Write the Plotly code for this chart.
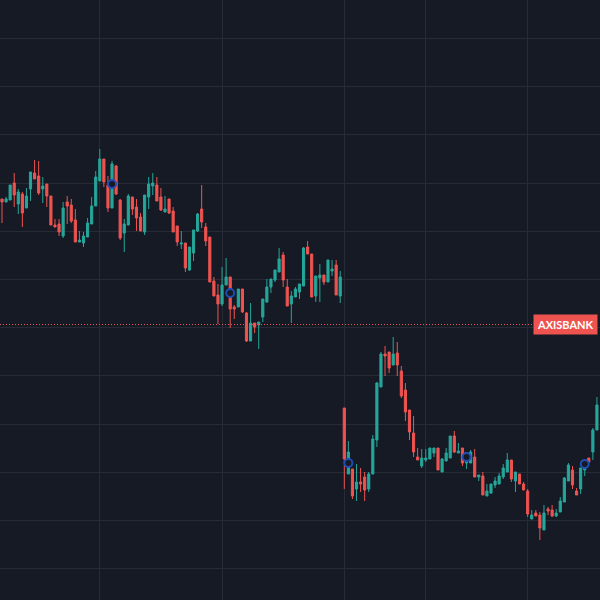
import plotly.graph_objects as go

# candle values (arbitrary price units)
opens = [401, 398, 400, 417, 396, 406, 392, 411, 427, 424, 411, 416, 404, 375, 376, 364, 398, 395, 380, 358,
         357, 363, 376, 394, 419, 441, 415, 392,
         434, 400, 367, 375, 403, 393, 383, 368, 403, 414, 415, 403, 388, 401, 389, 374, 356, 357, 330, 347,
         369, 391, 373, 363, 319, 305, 296,
         315, 323, 293, 293, 311, 287, 259, 277, 275, 283, 298, 313, 320, 328, 345, 313, 296, 303, 308, 314,
         353, 346, 304, 322, 325, 318, 329, 335, 304,
         192, 126, 131, 111, 118, 123, 111, 126, 160, 213, 246, 248, 235, 247, 229, 210, 190, 167, 143, 134,
         140, 141, 147, 152, 128, 139, 142, 164, 147,
         152, 137, 137, 143, 123, 124, 104, 107, 115, 116, 123, 128, 140, 119, 126, 116, 109, 81, 87, 85,
         70, 91, 90, 84, 88, 98, 119, 130, 109, 111, 130, 142, 148, 170]
highs = [401, 403, 415, 427, 411, 408, 412, 428, 440, 439, 423, 416, 404, 381, 381, 398, 404, 401, 391, 369,
         368, 382, 403, 429, 451, 441, 424, 439,
         435, 401, 381, 406, 403, 401, 387, 405, 423, 427, 423, 412, 404, 401, 393, 374, 369, 357, 353, 370,
         387, 415, 377, 363, 323, 316, 333,
         342, 323, 295, 311, 311, 288, 297, 277, 278, 301, 321, 321, 330, 352, 348, 321, 309, 313, 316, 353,
         359, 346, 324, 336, 325, 340, 340, 340, 329,
         192, 159, 131, 136, 132, 128, 128, 165, 218, 248, 254, 248, 263, 258, 234, 217, 190, 184, 152, 151,
         151, 152, 152, 152, 142, 152, 164, 169, 157,
         152, 148, 150, 151, 125, 128, 116, 116, 123, 127, 136, 147, 140, 128, 126, 118, 111, 90, 90, 88,
         95, 93, 95, 91, 103, 123, 137, 134, 112, 132, 140, 142, 172, 203]
lows = [377, 398, 400, 393, 386, 373, 392, 399, 421, 405, 397, 393, 375, 373, 364, 362, 376, 377, 358, 358,
        353, 363, 376, 394, 419, 413, 388, 392,
        405, 360, 348, 375, 385, 369, 369, 365, 391, 405, 399, 389, 388, 386, 368, 354, 351, 328, 329, 339,
        368, 372, 354, 318, 304, 276, 294,
        315, 272, 281, 293, 287, 258, 259, 267, 251, 278, 297, 307, 318, 328, 313, 294, 277, 303, 301, 314,
        346, 303, 298, 298, 315, 318, 324, 305, 297,
        111, 126, 101, 99, 108, 99, 108, 126, 153, 213, 224, 227, 235, 224, 202, 179, 160, 143, 140, 132,
        138, 141, 143, 130, 128, 139, 142, 147, 147,
        134, 131, 137, 123, 119, 105, 104, 106, 112, 116, 121, 128, 118, 108, 116, 110, 83, 81, 84, 60,
        70, 85, 83, 83, 88, 98, 119, 111, 105, 106, 124, 138, 140, 170]
closes = [398, 401, 415, 405, 408, 387, 404, 428, 421, 407, 414, 404, 375, 373, 368, 392, 394, 379, 358, 360,
          364, 377, 394, 423, 441, 418, 392, 436,
          406, 362, 376, 404, 391, 382, 369, 405, 416, 417, 399, 390, 391, 387, 368, 358, 357, 332, 353, 370,
          386, 378, 359, 318, 304, 296, 315,
          323, 291, 291, 311, 288, 259, 277, 273, 278, 301, 313, 321, 330, 341, 320, 294, 304, 311, 316, 352,
          346, 303, 324, 325, 318, 340, 331, 305, 323,
          141, 148, 104, 118, 116, 110, 126, 161, 217, 246, 244, 232, 246, 235, 204, 188, 168, 148, 140, 142,
          142, 152, 152, 130, 141, 147, 164, 148, 149,
          137, 146, 148, 123, 125, 105, 109, 116, 119, 124, 132, 140, 121, 128, 116, 110, 86, 85, 84, 72,
          87, 89, 84, 87, 99, 122, 135, 115, 105, 132, 137, 138, 170, 195]

# circle markers
marker_idx = [27, 56, 85, 114, 143]
marker_val = [416, 307, 137, 143, 136]

# price line + label
level_name = "AXISBANK"
level_val = 275.5

# vertical grid positions (candle index)
grid_idx = [24, 54, 84, 104, 129]

bg = "#161a25"
up = "#26a69a"
down = "#ef5350"

x = list(range(len(opens)))

fig = go.Figure()
fig.add_trace(go.Candlestick(
    x=x, open=opens, high=highs, low=lows, close=closes,
    increasing=dict(line=dict(color=up, width=1), fillcolor=up),
    decreasing=dict(line=dict(color=down, width=1), fillcolor=down),
    whiskerwidth=0, hoverinfo="skip", showlegend=False,
))
fig.add_trace(go.Scatter(
    x=marker_idx, y=marker_val, mode="markers",
    marker=dict(symbol="circle", size=8, color=bg, line=dict(color="#1f4db5", width=2)),
    hoverinfo="skip", showlegend=False,
))

fig.add_shape(type="line", xref="paper", yref="y", x0=0, x1=0.895, y0=level_val, y1=level_val,
              line=dict(color=down, width=1, dash="1px,2px"))
fig.add_annotation(xref="paper", yref="y", x=0.997, y=level_val, xanchor="right", yanchor="middle",
                   text="<b>" + level_name + "</b>", showarrow=False,
                   font=dict(family="Lato, sans-serif", size=11, color="white"),
                   bgcolor=down, borderpad=3)

fig.update_xaxes(range=[-0.49, 146.75], tickvals=grid_idx, showticklabels=False, ticks="",
                 showgrid=True, gridcolor="#272b36", gridwidth=1, zeroline=False,
                 rangeslider=dict(visible=False), fixedrange=True)
fig.update_yaxes(range=[0, 600], tick0=31.3, dtick=48.2, showticklabels=False, ticks="",
                 showgrid=True, gridcolor="#272b36", gridwidth=1, zeroline=False)

fig.update_layout(
    width=600, height=600,
    margin=dict(l=0, r=0, t=0, b=0),
    paper_bgcolor=bg, plot_bgcolor=bg,
    boxgap=0.25,
)

# drop the default page margin so the chart fills the window
fig.write_html("out.html", config={"displayModeBar": False},
               post_script="document.body.style.margin='0';document.body.style.background='%s';" % bg)
